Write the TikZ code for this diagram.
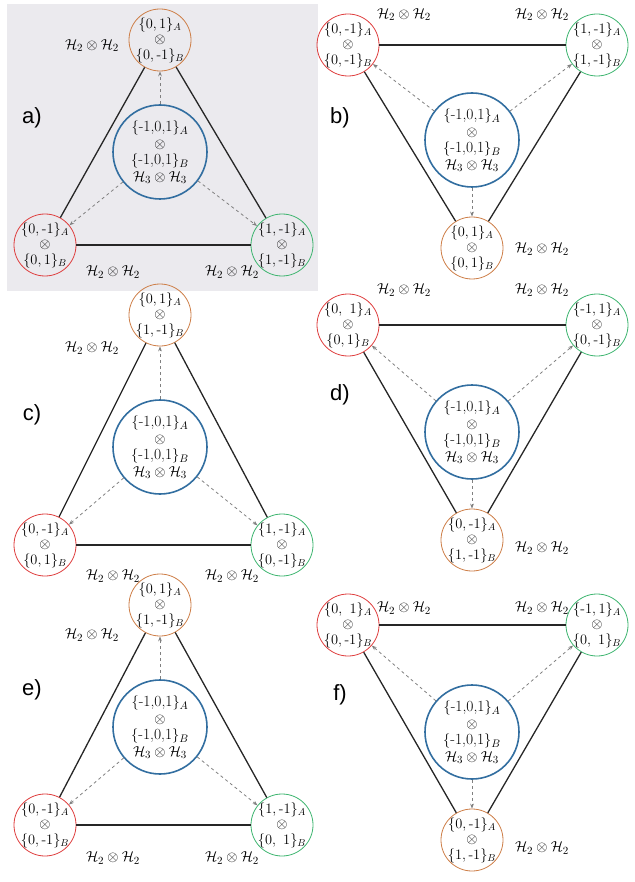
\documentclass[tikz,border=0pt]{standalone}
\usepackage{amsmath}
\usepackage{fontspec}
\setsansfont{Liberation Sans}
\usetikzlibrary{arrows.meta}
\definecolor{cor}{RGB}{205,125,70}
\definecolor{cre}{RGB}{222,60,60}
\definecolor{cgr}{RGB}{60,180,110}
\definecolor{cbl}{RGB}{50,110,160}
\definecolor{bg}{RGB}{235,234,238}
\tikzset{
 x=1pt,y=-1pt,
 sm/.style={circle,draw,line width=0.8pt,minimum size=62pt,inner sep=-8pt,align=center,font=\fontsize{14.5}{15.5}\selectfont},
 big/.style={circle,draw=cbl,line width=1.6pt,minimum size=94pt,inner sep=-8pt,align=center,font=\fontsize{15.5}{16.5}\selectfont},
 edge/.style={line width=1.3pt,black!85},
 dsh/.style={dashed,gray,line width=0.8pt,-{Stealth[length=5pt]}},
 hl/.style={font=\fontsize{15.5}{15}\selectfont},
 plab/.style={font=\sffamily\fontsize{22}{24}\selectfont}
}
\newcommand\st[2]{$\{#1\}_A$\\$\otimes$\\$\{#2\}_B$}
\newcommand\ctr{$\{$-1,0,1$\}_A$\\$\otimes$\\$\{$-1,0,1$\}_B$\\$\mathcal{H}_3\otimes\mathcal{H}_3$}
\newcommand\hh{$\mathcal{H}_2\otimes\mathcal{H}_2$}
\begin{document}
\begin{tikzpicture}
\useasboundingbox (0,0) rectangle (634,882);
\fill[bg] (7,4) rectangle (318,291);
% a
\node[sm,draw=cor] (at) at (160,40) {\st{0,1}{0,\text{-}1}};
\node[sm,draw=cre] (al) at (45,245) {\st{0,\text{-}1}{0,1}};
\node[sm,draw=cgr] (ar) at (282,245) {\st{1,\text{-}1}{1,\text{-}1}};
\node[big] (ac) at (160,152) {\ctr};
\draw[edge] (at)--(al); \draw[edge] (at)--(ar); \draw[edge] (al)--(ar);
\draw[dsh] (ac)--(at); \draw[dsh] (ac)--(al); \draw[dsh] (ac)--(ar);
\node[plab] (la) at (32,118) {a)};
\node[hl] (ha1) at (92,46) {\hh};
\node[hl] (ha2) at (113,272) {\hh};
\node[hl] (ha3) at (232,272) {\hh};
% b
\node[sm,draw=cre] (bl) at (348,45) {\st{0,\text{-}1}{0,\text{-}1}};
\node[sm,draw=cgr] (br) at (597,45) {\st{1,\text{-}1}{1,\text{-}1}};
\node[sm,draw=cor] (bb) at (472,248) {\st{0,1}{0,1}};
\node[big] (bc) at (472,140) {\ctr};
\draw[edge] (bl)--(br); \draw[edge] (bl)--(bb); \draw[edge] (br)--(bb);
\draw[dsh] (bc)--(bl); \draw[dsh] (bc)--(br); \draw[dsh] (bc)--(bb);
\node[plab] (lb) at (340,118) {b)};
\node[hl] (hb1) at (404,15) {\hh};
\node[hl] (hb2) at (542,15) {\hh};
\node[hl] (hb3) at (542,249) {\hh};
% c
\node[sm,draw=cor] (ct) at (160,315) {\st{0,1}{1,\text{-}1}};
\node[sm,draw=cre] (cl) at (45,545) {\st{0,\text{-}1}{0,1}};
\node[sm,draw=cgr] (cr) at (282,545) {\st{1,\text{-}1}{0,\text{-}1}};
\node[big] (cc) at (160,447) {\ctr};
\draw[edge] (ct)--(cl); \draw[edge] (ct)--(cr); \draw[edge] (cl)--(cr);
\draw[dsh] (cc)--(ct); \draw[dsh] (cc)--(cl); \draw[dsh] (cc)--(cr);
\node[plab] (lc) at (32,415) {c)};
\node[hl] (hc1) at (92,348) {\hh};
\node[hl] (hc2) at (113,576) {\hh};
\node[hl] (hc3) at (232,576) {\hh};
% d
\node[sm,draw=cre] (dl) at (348,325) {\st{0,\ 1}{0,1}};
\node[sm,draw=cgr] (dr) at (597,325) {\st{\text{-}1,1}{0,\text{-}1}};
\node[sm,draw=cor] (db) at (472,540) {\st{0,\text{-}1}{1,\text{-}1}};
\node[big] (dc) at (472,432) {\ctr};
\draw[edge] (dl)--(dr); \draw[edge] (dl)--(db); \draw[edge] (dr)--(db);
\draw[dsh] (dc)--(dl); \draw[dsh] (dc)--(dr); \draw[dsh] (dc)--(db);
\node[plab] (ld) at (340,395) {d)};
\node[hl] (hd1) at (404,290) {\hh};
\node[hl] (hd2) at (542,290) {\hh};
\node[hl] (hd3) at (542,548) {\hh};
% e
\node[sm,draw=cor] (et) at (160,605) {\st{0,1}{1,\text{-}1}};
\node[sm,draw=cre] (el) at (45,825) {\st{0,\text{-}1}{0,\text{-}1}};
\node[sm,draw=cgr] (er) at (282,825) {\st{1,\text{-}1}{0,\ 1}};
\node[big] (ec) at (160,727) {\ctr};
\draw[edge] (et)--(el); \draw[edge] (et)--(er); \draw[edge] (el)--(er);
\draw[dsh] (ec)--(et); \draw[dsh] (ec)--(el); \draw[dsh] (ec)--(er);
\node[plab] (le) at (32,690) {e)};
\node[hl] (he1) at (92,635) {\hh};
\node[hl] (he2) at (113,858) {\hh};
\node[hl] (he3) at (232,858) {\hh};
% f
\node[sm,draw=cre] (fl) at (348,625) {\st{0,\ 1}{0,\text{-}1}};
\node[sm,draw=cgr] (fr) at (597,625) {\st{\text{-}1,1}{0,\ 1}};
\node[sm,draw=cor] (fb) at (472,840) {\st{0,\text{-}1}{1,\text{-}1}};
\node[big] (fc) at (472,732) {\ctr};
\draw[edge] (fl)--(fr); \draw[edge] (fl)--(fb); \draw[edge] (fr)--(fb);
\draw[dsh] (fc)--(fl); \draw[dsh] (fc)--(fr); \draw[dsh] (fc)--(fb);
\node[plab] (lf) at (340,695) {f)};
\node[hl] (hf1) at (404,608) {\hh};
\node[hl] (hf2) at (542,608) {\hh};
\node[hl] (hf3) at (542,848) {\hh};
\end{tikzpicture}
\end{document}
